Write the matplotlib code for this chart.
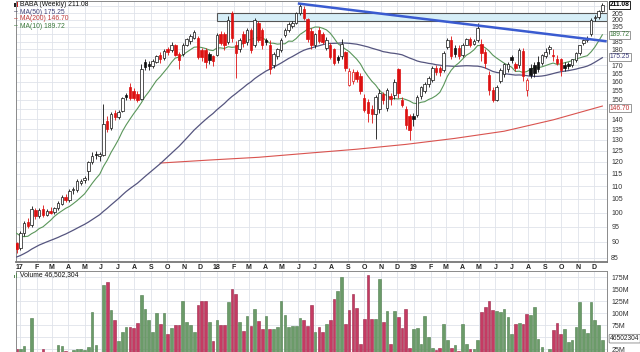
import matplotlib
matplotlib.use("Agg")
import matplotlib.pyplot as plt
import matplotlib.dates as mdates
from matplotlib.patches import Rectangle
from matplotlib.transforms import blended_transform_factory
from matplotlib.ticker import FixedLocator, NullLocator, FuncFormatter
import numpy as np
import pandas as pd

plt.rcParams['font.family'] = ['Liberation Sans', 'DejaVu Sans']

# weekly closes of 2016, only used to warm up the moving averages
hist_close = [73.0, 69.5, 70.0, 67.0, 63.5, 62.0, 65.5, 69.5, 73.5, 75.0, 77.0, 76.5,
              78.0, 76.5, 78.0, 76.5, 77.0, 77.5, 79.0, 80.5, 81.5, 80.0, 78.5, 79.5,
              77.0, 80.0, 80.5, 82.5, 82.0, 82.5, 86.5, 94.0, 96.5, 96.0, 99.5, 102.0,
              103.5, 107.0, 105.8, 107.5, 103.0, 104.5, 101.5, 99.0, 94.0, 92.5, 92.0,
              90.5, 93.0, 89.5, 88.5]

# BABA weekly candles, week of 2016-12-26 .. week of 2019-12-16
opens = [89.5, 88.0, 93.0, 96.8, 95.5, 100.9, 98.6, 101.2, 99.3, 100.6, 100.1, 101.6,
         103.3, 105.9, 104.5, 108.3, 108.6, 111.4, 112.4, 116.2, 120.0, 123.6, 122.6, 123.2,
         139.0, 135.5, 143.2, 141.0, 144.0, 152.4, 157.2, 154.8, 153.2, 150.6, 172.0, 170.5,
         169.5, 172.0, 176.0, 174.5, 180.0, 179.5, 182.5, 177.0, 177.0, 183.0, 185.5, 187.5,
         187.5, 179.5, 179.5, 177.0, 175.5, 176.5, 190.4, 190.0, 184.5, 205.2, 183.0, 180.0,
         190.0, 184.5, 193.0, 182.5, 197.8, 193.0, 186.0, 183.0, 170.0, 175.5, 179.5, 189.5,
         193.0, 195.5, 198.0, 205.0, 208.0, 200.5, 192.5, 182.8, 193.0, 190.0, 181.0, 183.0,
         180.0, 175.0, 175.5, 178.0, 158.5, 160.5, 166.0, 163.5, 151.0, 149.0, 145.0, 142.5,
         145.0, 153.0, 145.5, 152.0, 152.5, 167.5, 150.0, 145.0, 141.5, 141.5, 142.0, 152.0,
         155.0, 159.0, 161.0, 168.2, 168.0, 167.0, 181.5, 186.0, 181.0, 180.5, 176.0, 183.0,
         186.5, 183.5, 186.0, 183.5, 178.0, 164.0, 155.5, 150.0, 160.5, 164.5, 167.5, 175.2,
         170.5, 170.0, 179.0, 155.5, 168.0, 170.0, 172.0, 171.0, 175.5, 180.0, 176.5, 174.0,
         173.5, 170.0, 170.5, 170.0, 173.0, 177.5, 184.0, 186.0, 190.0, 201.5, 202.0, 206.8]
highs = [90.0, 93.5, 97.0, 98.0, 102.5, 101.8, 101.6, 102.8, 101.2, 101.9, 102.0, 104.2,
         106.4, 107.0, 108.8, 109.8, 112.8, 113.0, 114.2, 120.5, 124.5, 124.8, 124.2, 148.0,
         141.5, 143.8, 144.8, 144.6, 151.8, 153.6, 159.6, 156.8, 155.0, 170.5, 174.0, 172.5,
         174.0, 176.5, 178.0, 180.0, 181.5, 184.5, 183.5, 178.5, 184.0, 187.5, 190.0, 193.0,
         189.0, 181.0, 181.0, 178.0, 176.5, 191.0, 192.5, 191.5, 202.5, 206.3, 185.5, 187.5,
         192.0, 194.0, 194.5, 201.5, 199.5, 194.0, 187.5, 186.0, 178.5, 181.0, 187.5, 194.0,
         198.5, 199.5, 205.5, 212.5, 210.5, 201.5, 194.0, 191.0, 195.0, 191.5, 188.0, 184.0,
         181.0, 176.5, 186.5, 179.0, 168.0, 167.5, 167.0, 165.0, 153.0, 150.5, 147.0, 152.5,
         156.0, 154.5, 156.5, 153.5, 161.5, 168.5, 151.5, 146.5, 142.5, 143.0, 152.5, 157.5,
         160.0, 163.5, 169.5, 170.0, 169.5, 179.0, 187.5, 188.5, 183.0, 183.0, 184.0, 187.5,
         188.0, 186.5, 197.5, 186.5, 180.0, 166.5, 157.0, 158.0, 168.0, 171.5, 172.0, 176.5,
         172.0, 180.5, 180.5, 162.0, 170.5, 172.0, 175.5, 177.0, 180.5, 182.5, 180.0, 176.5,
         174.5, 172.0, 172.0, 174.0, 178.5, 183.0, 187.0, 189.0, 201.5, 203.5, 207.5, 212.5]
lows = [86.6, 87.5, 92.0, 94.5, 95.0, 97.8, 98.0, 98.4, 98.6, 99.4, 99.6, 101.0,
        102.8, 103.8, 104.0, 107.0, 107.8, 110.6, 111.4, 112.5, 119.0, 121.2, 120.6, 122.5,
        133.5, 134.8, 139.5, 139.8, 143.5, 149.8, 150.2, 150.0, 148.8, 149.8, 167.0, 167.2,
        168.0, 171.0, 171.5, 173.0, 176.5, 178.0, 175.5, 167.5, 175.5, 181.8, 183.5, 186.5,
        174.0, 172.5, 168.0, 170.5, 169.5, 175.5, 182.5, 179.5, 183.5, 185.0, 162.0, 178.0,
        181.5, 183.0, 177.5, 181.5, 184.5, 180.0, 182.5, 164.5, 168.5, 174.0, 178.0, 188.0,
        191.5, 194.0, 197.0, 203.5, 200.2, 184.5, 180.0, 181.0, 184.0, 183.5, 179.5, 174.0,
        170.0, 171.0, 174.0, 166.5, 157.5, 159.0, 160.0, 153.0, 143.5, 138.5, 138.0, 130.1,
        143.0, 148.0, 144.0, 147.5, 150.5, 151.0, 146.0, 135.0, 129.8, 136.5, 141.0, 150.5,
        153.5, 157.0, 160.0, 164.0, 163.5, 166.0, 180.0, 174.0, 175.0, 174.0, 175.0, 182.5,
        181.5, 182.5, 185.0, 172.5, 168.5, 152.5, 149.0, 149.5, 159.5, 163.0, 166.0, 171.5,
        166.5, 168.5, 160.5, 152.0, 162.5, 163.0, 166.0, 170.0, 174.5, 177.0, 172.5, 170.0,
        163.5, 166.5, 167.5, 169.0, 172.0, 176.5, 183.0, 184.5, 189.0, 199.0, 200.5, 205.5]
closes = [87.8, 92.8, 96.3, 95.4, 101.2, 98.6, 100.9, 99.0, 100.4, 100.0, 101.5, 103.5,
          105.6, 104.6, 108.2, 108.8, 112.0, 112.2, 113.2, 119.8, 122.6, 122.9, 123.4, 137.6,
          135.0, 142.5, 140.9, 143.6, 150.8, 151.4, 151.2, 151.0, 149.9, 167.4, 169.0, 169.2,
          172.5, 175.5, 173.5, 179.0, 178.2, 183.0, 176.3, 173.2, 183.0, 186.5, 189.0, 191.5,
          175.2, 175.0, 172.0, 173.2, 172.4, 189.6, 184.2, 182.8, 200.2, 187.6, 177.8, 186.2,
          184.0, 192.8, 179.2, 199.6, 186.0, 182.5, 184.4, 167.4, 177.0, 180.2, 186.0, 193.0,
          197.4, 198.0, 204.8, 210.0, 201.5, 186.5, 182.6, 190.0, 185.2, 185.0, 186.2, 175.2,
          171.2, 173.4, 183.5, 168.5, 166.5, 165.8, 161.6, 155.0, 144.6, 143.0, 142.4, 151.5,
          154.0, 150.0, 155.5, 150.5, 160.0, 153.5, 147.5, 137.0, 134.6, 139.8, 151.5, 157.0,
          159.0, 162.0, 168.5, 166.0, 165.8, 177.5, 186.0, 175.5, 177.0, 175.5, 183.0, 186.5,
          183.0, 185.5, 194.5, 177.5, 171.5, 155.5, 150.0, 157.0, 167.0, 170.5, 170.8, 173.0,
          168.5, 179.5, 163.6, 161.0, 164.0, 165.5, 167.5, 176.0, 178.5, 181.5, 175.5, 171.0,
          167.0, 168.0, 169.5, 173.5, 177.5, 182.5, 186.2, 187.5, 199.8, 202.0, 206.5, 211.08]
# weekly volume in millions of shares
volume_m = [25.7, 24.4, 31.3, 12.0, 89.6, 12.0, 18.8, 25.7, 18.8, 17.4, 10.0, 32.7,
            31.3, 20.2, 17.4, 22.3, 25.7, 25.7, 22.3, 29.2, 102.0, 34.0, 15.4, 157.6,
            164.6, 105.6, 84.8, 41.0, 60.5, 70.9, 70.9, 68.8, 79.2, 136.8, 109.0, 84.8,
            60.5, 100.7, 77.8, 100.7, 57.0, 68.8, 75.7, 75.7, 124.3, 81.3, 75.7, 60.5,
            116.0, 124.3, 124.3, 81.3, 41.0, 84.8, 74.3, 74.3, 122.9, 150.7, 140.3, 81.3,
            61.8, 93.8, 72.3, 109.0, 82.7, 67.4, 93.8, 67.4, 67.4, 70.9, 124.3, 95.2,
            70.9, 73.0, 73.0, 89.6, 84.8, 73.0, 117.4, 60.5, 70.9, 60.5, 77.8, 84.8,
            128.5, 146.5, 175.0, 77.8, 105.6, 140.3, 110.4, 36.2, 88.2, 178.4, 86.8, 88.2,
            170.1, 81.3, 103.5, 36.2, 103.5, 91.7, 68.8, 109.0, 27.2, 66.0, 68.8, 36.2,
            93.8, 50.0, 27.2, 23.7, 27.2, 76.4, 43.1, 27.2, 32.7, 20.2, 77.8, 36.2,
            24.4, 24.4, 43.1, 102.0, 112.5, 124.3, 105.6, 103.5, 102.0, 109.0, 91.7, 57.0,
            77.8, 79.9, 77.8, 98.6, 96.5, 112.5, 46.6, 29.2, 12.0, 24.4, 63.9, 79.9,
            57.0, 66.0, 39.6, 43.1, 70.9, 123.0, 66.0, 58.0, 123.0, 85.0, 75.0, 44.0]

ma200_dates = ["2017-09-18", "2017-12-18", "2018-03-19", "2018-06-18", "2018-09-17",
               "2018-12-17", "2019-03-18", "2019-06-17", "2019-09-16", "2019-12-16"]
ma200_vals = [119.5, 120.8, 122.0, 123.8, 125.6, 127.8, 130.6, 134.0, 139.6, 146.7]

trend_dates = ["2018-05-31", "2019-12-24"]
trend_vals = [212.2, 185.2]
box_start, box_low, box_high = "2018-01-01", 199.3, 205.4

dates = pd.date_range("2016-12-26", periods=len(closes), freq="7D")
x = mdates.date2num(dates)
o, h, l, c = (np.array(v) for v in (opens, highs, lows, closes))
prev = np.r_[hist_close[-1], c[:-1]]
up = c >= prev

full = pd.Series(hist_close + closes)
ma10 = full.rolling(10).mean().iloc[len(hist_close):].values
ma50 = full.rolling(50).mean().iloc[len(hist_close):].values

W, H = 640, 352
def frame(x0, y0, x1, y1):
    return [x0 / W, 1 - y1 / H, (x1 - x0) / W, (y1 - y0) / H]

fig = plt.figure(figsize=(6.4, 3.52), dpi=100)
ax = fig.add_axes(frame(16, 1, 607, 262))
axv = fig.add_axes(frame(16, 271, 607, 361))

xl = (mdates.date2num(pd.Timestamp("2016-12-25")), mdates.date2num(pd.Timestamp("2019-12-24 14:00")))
gridc = '#dfe3ea'

# price panel
ax.set_yscale('log')
ax.set_ylim(83.7, 214.1)
ax.set_xlim(*xl)
levels = list(range(85, 215, 5))
hidden = {145, 175, 190, 210}
ax.yaxis.set_major_locator(FixedLocator(levels))
ax.yaxis.set_minor_locator(NullLocator())
ax.yaxis.set_major_formatter(FuncFormatter(lambda v, p: '' if int(round(v)) in hidden else '%d' % round(v)))
ax.yaxis.tick_right()
ax.tick_params(axis='y', length=0, pad=3, labelsize=5.0, labelcolor='#333333')

ax.xaxis.set_major_locator(mdates.MonthLocator())
ax.xaxis.set_major_formatter(FuncFormatter(
    lambda v, p: mdates.num2date(v).strftime('%y') if mdates.num2date(v).month == 1
    else mdates.num2date(v).strftime('%b')[0]))
ax.tick_params(axis='x', length=0, pad=1.5, labelsize=5, labelcolor='#222222')
for t in ax.get_xticklabels():
    t.set_fontweight('bold')
ax.grid(True, color=gridc, lw=0.6)
ax.set_axisbelow(True)
for s in ax.spines.values():
    s.set_color('#8a8a8a')
    s.set_linewidth(0.7)
ax.spines['bottom'].set_linewidth(1.3)
ax.spines['bottom'].set_color('#777777')

bx0 = mdates.date2num(pd.Timestamp(box_start))
ax.add_patch(Rectangle((bx0, box_low), xl[1] - bx0, box_high - box_low,
                       facecolor='#d6eef7', edgecolor='#555555', lw=0.8, zorder=2))

ax.plot(mdates.date2num(pd.to_datetime(ma200_dates)), ma200_vals, color='#d9534f', lw=0.8, zorder=3)
ax.plot(x, ma50, color='#55557f', lw=0.9, zorder=3)
ax.plot(x, ma10, color='#5a965a', lw=0.8, zorder=3)

edge = np.where(up, '#111111', '#dd1111')
face = np.where(c > o, 'white', edge)
ax.vlines(x, l, h, colors=edge, lw=0.6, zorder=4)
ax.bar(x, np.maximum(np.abs(c - o), 0.35), bottom=np.minimum(o, c), width=4.6,
       color=face, edgecolor=edge, lw=0.5, zorder=5)

ax.plot(mdates.date2num(pd.to_datetime(trend_dates)), trend_vals, color='#3a5bd0', lw=1.8,
        zorder=6, solid_capstyle='butt')

tr = blended_transform_factory(ax.transAxes, ax.transData)
for val, txt, col, ec, wt in [(211.08, '211.08', 'black', 'black', 'bold'),
                              (189.72, '189.72', '#3c7a3c', '#888888', 'normal'),
                              (175.25, '175.25', '#3b3b7a', '#888888', 'normal'),
                              (145.5, '146.70', '#c03030', '#888888', 'normal')]:
    ax.text(1.005, val, txt, transform=tr, fontsize=4.8, color=col, weight=wt,
            va='center', ha='left', clip_on=False,
            bbox=dict(boxstyle='square,pad=0.08', fc='white', ec=ec, lw=0.6))

# volume panel
axv.set_xlim(*xl)
axv.set_ylim(0, 187.5)
axv.bar(x, volume_m, width=5.0, color=np.where(up, '#6b9b69', '#c53b63'),
        edgecolor=np.where(up, '#4f7d4d', '#9a2848'), lw=0.4)
axv.yaxis.set_major_locator(FixedLocator([25, 50, 75, 100, 125, 150, 175]))
axv.yaxis.set_major_formatter(FuncFormatter(lambda v, p: '' if v == 50 else '%dM' % v))
axv.yaxis.tick_right()
axv.tick_params(axis='y', length=0, pad=3, labelsize=5.0, labelcolor='#333333')
axv.xaxis.set_major_locator(mdates.MonthLocator())
axv.tick_params(axis='x', length=0, labelbottom=False)
axv.grid(True, color=gridc, lw=0.6)
axv.set_axisbelow(True)
for s in axv.spines.values():
    s.set_color('#8a8a8a')
    s.set_linewidth(0.7)
trv = blended_transform_factory(axv.transAxes, axv.transData)
axv.text(1.005, 46.5, '46502304', transform=trv, fontsize=4.8, color='#222222',
         va='center', ha='left', clip_on=False,
         bbox=dict(boxstyle='round,pad=0.12', fc='white', ec='#888888', lw=0.6))

# legends
def ftext(px, py, s, **kw):
    fig.text(px / W, 1 - py / H, s, va='center', ha='left', fontsize=4.9, **kw)

def icon(px, py, w, h, col):
    fig.add_artist(Rectangle((px / W, 1 - (py + h) / H), w / W, h / H,
                             transform=fig.transFigure, facecolor=col, edgecolor='none'))

icon(14, 3, 1.5, 4, '#222222')
icon(16.5, 2, 1.5, 5, '#cc2222')
ftext(20, 5, 'BABA (Weekly) 211.08', color='#111111')
ftext(14, 12, '\u2013', color='#444466')
ftext(20, 12, 'MA(50) 175.25', color='#44447a')
ftext(14, 19, '\u2013', color='#c03a3a')
ftext(20, 19, 'MA(200) 146.70', color='#c03a3a')
ftext(14, 26, '\u2013', color='#3c7a3c')
ftext(20, 26, 'MA(10) 189.72', color='#3c7a3c')
icon(14, 275, 1.3, 3, '#5a8a58')
icon(16, 273, 1.3, 5, '#5a8a58')
ftext(20, 275, 'Volume 46,502,304', color='#111111')

fig.savefig('out.png', dpi=100)
